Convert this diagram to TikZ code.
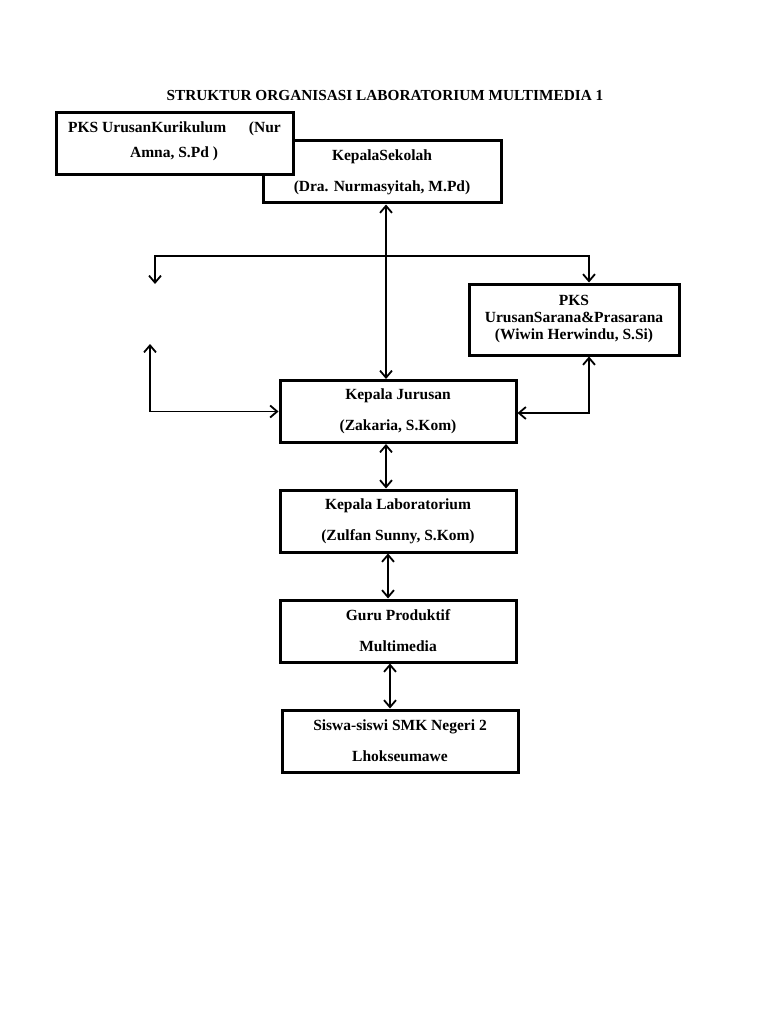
\documentclass[tikz,border=0pt]{standalone}
\usepackage{fontspec}
\setmainfont{Liberation Serif}
\usetikzlibrary{arrows.meta}
\begin{document}
\begin{tikzpicture}[x=1pt,y=-1pt,
  box/.style={draw, line width=3pt, fill=white, inner sep=0pt},
  txt/.style={font=\bfseries\fontsize{15.5}{31}\selectfont, align=center, inner sep=0pt},
  tip/.tip={Straight Barb[length=7pt,width=12pt,line width=1.8pt]},
  conn/.style={line width=1.1pt, tip-tip}
]
\useasboundingbox (0,0) rectangle (768,1024);
\fill[white] (0,0) rectangle (768,1024);

\node[font=\bfseries\fontsize{15.3}{18}\selectfont, inner sep=0pt] (title) at (385,96) {STRUKTUR ORGANISASI LABORATORIUM MULTIMEDIA 1};

% Kepala Sekolah
\node[box, txt, minimum width=238pt, minimum height=62pt] (ks) at (382,172) {KepalaSekolah\\(Dra. Nurmasyitah, M.Pd)};
% PKS Kurikulum (on top)
\node[box, minimum width=237pt, minimum height=62pt] (kur) at (174.5,144) {};
\node[txt, anchor=base west] (kur1) at (68,133) {PKS UrusanKurikulum};
\node[txt, anchor=base east] (kur2) at (281,133) {(Nur};
\node[txt, anchor=base] (kur3) at (174,158) {Amna, S.Pd )};

% PKS Sarana
\node[box, txt, font=\bfseries\fontsize{15.5}{17}\selectfont, minimum width=210pt, minimum height=71pt] (pks) at (574,319.5) {PKS\\UrusanSarana\&Prasarana\\(Wiwin Herwindu, S.Si)};

% column
\node[box, txt, minimum width=236pt, minimum height=62pt] (kj) at (398,411.5) {Kepala Jurusan\\(Zakaria, S.Kom)};
\node[box, txt, minimum width=236pt, minimum height=62pt] (kl) at (398,521) {Kepala Laboratorium\\(Zulfan Sunny, S.Kom)};
\node[box, txt, minimum width=236pt, minimum height=62pt] (gp) at (398,631) {Guru Produktif\\Multimedia};
\node[box, txt, minimum width=236pt, minimum height=62pt] (ss) at (400,741) {Siswa-siswi SMK Negeri 2\\Lhokseumawe};

% connectors
\coordinate (c1) at (386,0);
\coordinate (c2) at (386,0);
\coordinate (c3) at (388,0);
\coordinate (c4) at (390,0);
\coordinate (lt) at (155,284);
\coordinate (lc) at (155,256);
\coordinate (rc) at (589,256);
\coordinate (lu) at (150,344);
\coordinate (rx) at (589,413);

\draw[conn] (ks.south -| c1) -- (kj.north -| c1);
\draw[conn] (lt) -- (lc) -- (rc) -- (pks.north -| rc);
\draw[conn] (lu) |- (kj.west);
\draw[conn] (pks.south -| rc) -- (rx) -- (kj.east |- rx);
\draw[conn] (kj.south -| c2) -- (kl.north -| c2);
\draw[conn] (kl.south -| c3) -- (gp.north -| c3);
\draw[conn] (gp.south -| c4) -- (ss.north -| c4);
\end{tikzpicture}
\end{document}
